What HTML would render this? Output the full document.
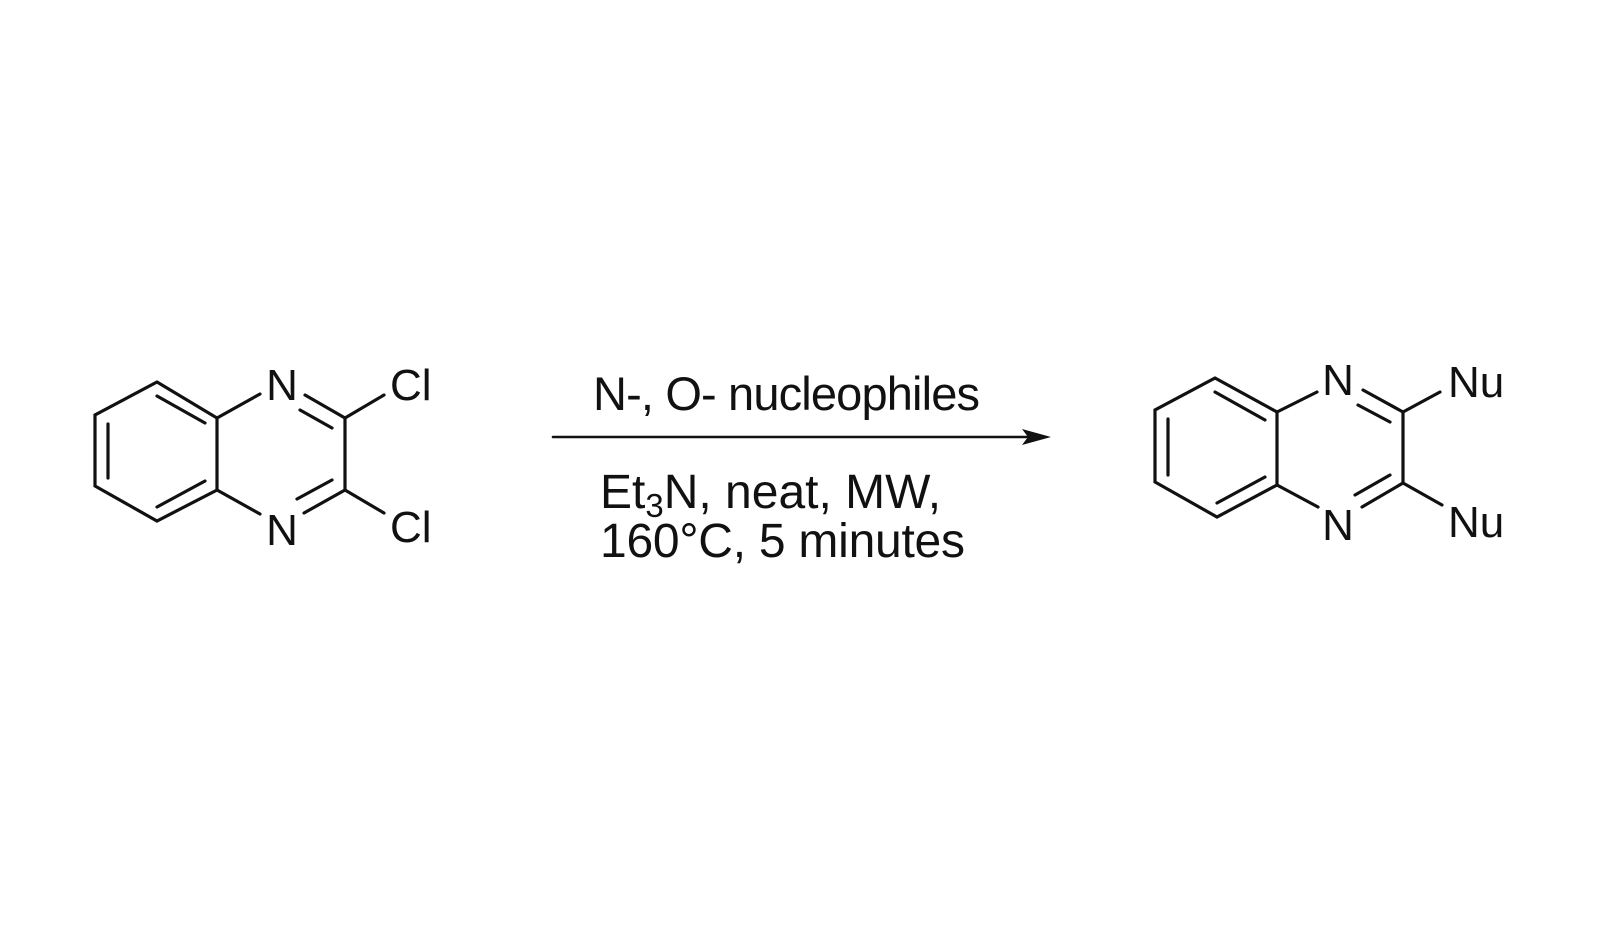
<!DOCTYPE html>
<html><head><style>
html,body{margin:0;padding:0;background:#fff;}
svg{display:block;}
text{font-family:"Liberation Sans",Arial,sans-serif;fill:#111;}
</style></head><body>
<svg width="1600" height="926" viewBox="0 0 1600 926" xmlns="http://www.w3.org/2000/svg">
<g stroke="#111" stroke-width="3.2" fill="none" stroke-linecap="round">
<!-- left molecule -->
<polyline points="157,382 95,415 95,486 157,521 217,490 217,418 157,382"/>
<line x1="108" y1="424" x2="108" y2="478"/>
<line x1="157" y1="396" x2="205" y2="423"/>
<line x1="157" y1="507" x2="205" y2="481"/>
<line x1="217" y1="418" x2="260" y2="394"/>
<line x1="217" y1="490" x2="260" y2="514"/>
<line x1="305" y1="395" x2="345" y2="418"/>
<line x1="300" y1="410" x2="332" y2="428"/>
<line x1="345" y1="418" x2="345" y2="490"/>
<line x1="345" y1="490" x2="304" y2="513"/>
<line x1="332" y1="480" x2="297" y2="499"/>
<line x1="345" y1="418" x2="384" y2="395"/>
<line x1="345" y1="490" x2="384" y2="513"/>
<!-- right molecule -->
<polyline points="1215,378 1155,410 1155,482 1217,517 1277,485 1277,412 1215,378"/>
<line x1="1168" y1="419" x2="1168" y2="475"/>
<line x1="1215" y1="392" x2="1265" y2="420"/>
<line x1="1217" y1="503" x2="1265" y2="477"/>
<line x1="1277" y1="412" x2="1317" y2="392"/>
<line x1="1277" y1="485" x2="1318" y2="507"/>
<line x1="1363" y1="390" x2="1403" y2="412"/>
<line x1="1358" y1="405" x2="1390" y2="422"/>
<line x1="1403" y1="412" x2="1403" y2="483"/>
<line x1="1403" y1="483" x2="1362" y2="507"/>
<line x1="1390" y1="475" x2="1355" y2="495"/>
<line x1="1403" y1="412" x2="1440" y2="392"/>
<line x1="1403" y1="483" x2="1442" y2="505"/>
<!-- arrow -->
<line x1="553" y1="437" x2="1035" y2="437" stroke-width="2.6"/>
</g>
<polygon points="1051,437 1022,429 1028,437 1022,445" fill="#111"/>
<g font-size="44">
<text x="282" y="400" text-anchor="middle">N</text>
<text x="282" y="545" text-anchor="middle">N</text>
<text x="390" y="400">Cl</text>
<text x="390" y="542">Cl</text>
<text x="1338" y="395" text-anchor="middle">N</text>
<text x="1338" y="540" text-anchor="middle">N</text>
<text x="1448" y="397">Nu</text>
<text x="1448" y="537">Nu</text>
</g>
<g font-size="47">
<text x="593" y="410" textLength="387">N-, O- nucleophiles</text>
<text x="600" y="508" font-size="48">Et<tspan font-size="33" dy="9">3</tspan><tspan dy="-9">N, neat, MW,</tspan></text>
<text x="600" y="557" font-size="48" textLength="365">160°C, 5 minutes</text>
</g>
</svg>
</body></html>
